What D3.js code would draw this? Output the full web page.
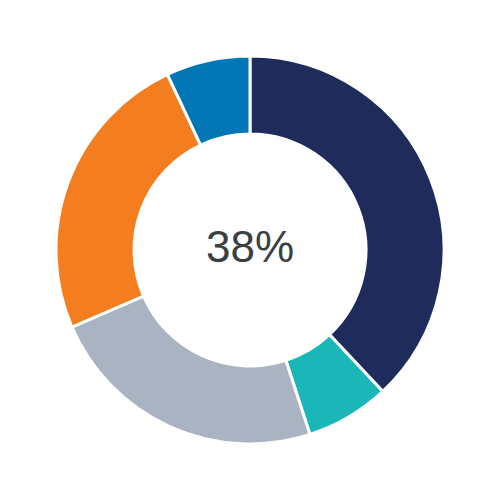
<!DOCTYPE html>
<html>
<head>
<meta charset="utf-8">
<script src="https://cdn.jsdelivr.net/npm/d3@7"></script>
<style>
  body { margin: 0; background: #fff; }
</style>
</head>
<body>
<svg id="chart" width="500" height="500"></svg>
<script>
// slice values, clockwise from 12 o'clock
const categories = ['A', 'B', 'C', 'D', 'E'];
const values = [38, 7, 23.5, 24.5, 7];
const colors = ['#1e2b5b', '#1bb6b7', '#a9b3c1', '#f47d20', '#0377b6'];
const centerLabel = '38%';

const svg = d3.select('#chart');
const g = svg.append('g').attr('transform', 'translate(250,250)');

const pie = d3.pie().sort(null).value(d => d.v);
const arc = d3.arc().innerRadius(116).outerRadius(194);

const data = categories.map((c, i) => ({ c: c, v: values[i], col: colors[i] }));

g.selectAll('path')
  .data(pie(data))
  .enter()
  .append('path')
  .attr('d', arc)
  .attr('fill', d => d.data.col)
  .attr('stroke', '#fff')
  .attr('stroke-width', 3);

g.append('text')
  .attr('text-anchor', 'middle')
  .attr('y', 12)
  .attr('font-family', 'Liberation Sans, Arial, sans-serif')
  .attr('font-size', 44)
  .attr('fill', '#3a3f44')
  .text(centerLabel);
</script>
</body>
</html>
